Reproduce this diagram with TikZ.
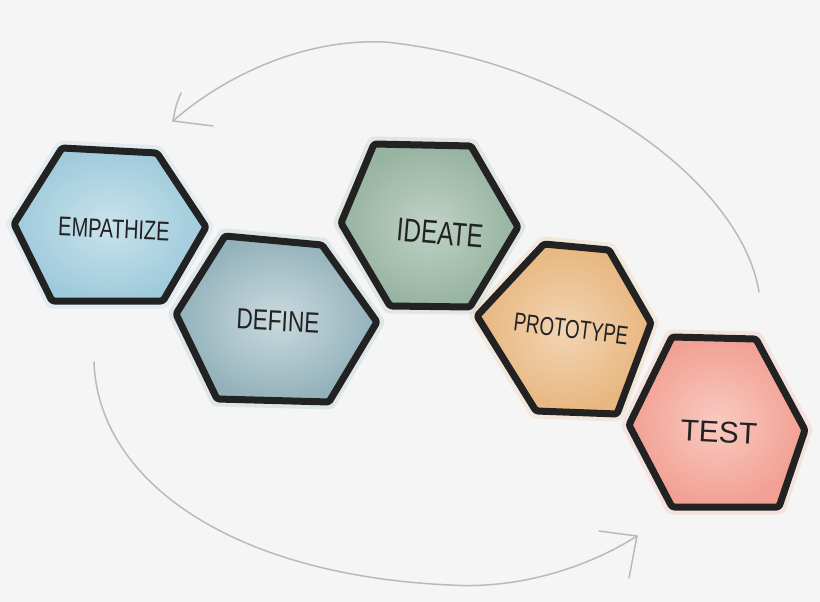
\documentclass[tikz,border=0pt]{standalone}
\usepackage{fontspec}
\newfontfamily\hand{Liberation Sans}
\definecolor{bg}{HTML}{F5F5F5}
\definecolor{arrowgray}{HTML}{BDB9B4}
\definecolor{inkblack}{HTML}{222222}
\definecolor{empA}{HTML}{9FCADB}\definecolor{empB}{HTML}{D8EBF2}
\definecolor{defA}{HTML}{92B1BA}\definecolor{defB}{HTML}{DDE8EB}
\definecolor{ideA}{HTML}{97B3A1}\definecolor{ideB}{HTML}{CCDCD2}
\definecolor{proA}{HTML}{E8B67F}\definecolor{proB}{HTML}{F5DFC4}
\definecolor{tesA}{HTML}{F2A093}\definecolor{tesB}{HTML}{FBD8D0}
\tikzset{
  hexborder/.style={draw=inkblack, line width=7pt, line join=round, rounded corners=2.5pt},
  arrowline/.style={draw=arrowgray, line width=1.5pt, line cap=round},
  label/.style={text=inkblack, inner sep=0pt},
}
\newcommand\hexcell[3]{%
  \draw[#1, opacity=.22, line width=15pt, line join=round, fill=#1] #3;
  \shade[inner color=#2!75!#1, outer color=#1] #3;
  \draw[hexborder] #3;
}
\newcommand\hw[3]{\fontsize{#1}{#1}\selectfont\hand\scalebox{#2}[1]{#3}}
\begin{document}
\begin{tikzpicture}[x=1pt, y=-1pt]
\useasboundingbox (0,0) rectangle (820,602);
\fill[bg] (0,0) rectangle (820,602);

% arrows
\coordinate (tA) at (759,292);
\coordinate (tB) at (173,121);
\coordinate (tB1) at (181,93);
\coordinate (tB2) at (213,126);
\draw[arrowline] (tA) .. controls (742,185) and (580,62) .. (385,42)
  .. controls (290,38) and (210,88) .. (tB);
\draw[arrowline] (tB) .. controls (176,105) .. (tB1);
\draw[arrowline] (tB) -- (tB2);

\coordinate (bA) at (94,362);
\coordinate (bB) at (637,536);
\coordinate (bB1) at (599,531);
\coordinate (bB2) at (629,578);
\draw[arrowline] (bA) .. controls (98,480) and (230,575) .. (450,585)
  .. controls (530,590) and (600,560) .. (bB);
\draw[arrowline] (bB) -- (bB1);
\draw[arrowline] (bB) -- (bB2);

% hexagons
\hexcell{empA}{empB}{(62,148)--(157,153)--(206,227)--(163,301)--(52,301)--(14,224)--cycle}
\hexcell{defA}{defB}{(225,236)--(322,245)--(377,322)--(329,402)--(217,399)--(176,314)--cycle}
\hexcell{ideA}{ideB}{(374,144)--(471,146)--(518,227)--(470,307)--(390,306)--(341,223)--cycle}
\hexcell{proA}{proB}{(544,244)--(609,250)--(651,323)--(617,414)--(536,411)--(477,316)--cycle}
\hexcell{tesA}{tesB}{(672,337)--(756,339)--(805,430)--(779,507)--(672,507)--(629,425)--cycle}

% labels
\node[label, rotate=-2.5] (emp) at (114,229) {\hw{27}{0.74}{EMPATHIZE}};
\node[label, rotate=-3] (def) at (278,321) {\hw{29}{0.78}{DEFINE}};
\node[label, rotate=-5] (ide) at (440,233) {\hw{33}{0.74}{IDEATE}};
\node[label, rotate=-7] (pro) at (571,329) {\hw{26}{0.72}{PROTOTYPE}};
\node[label, rotate=-3] (tes) at (719,432) {\hw{30}{1.0}{TEST}};
\end{tikzpicture}
\end{document}
